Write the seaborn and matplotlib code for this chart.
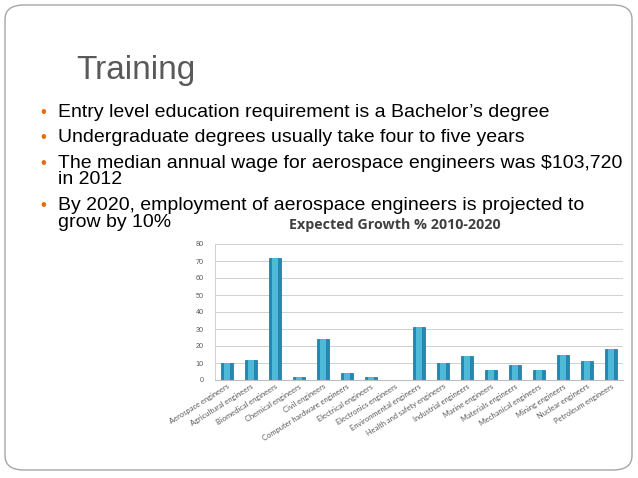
import matplotlib
matplotlib.use("Agg")
import matplotlib.pyplot as plt
import seaborn as sns
import pandas as pd
from matplotlib.patches import FancyBboxPatch

# chart data
occupations = ["Aerospace engineers", "Agricultural engineers", "Biomedical engineers",
               "Chemical engineers", "Civil engineers", "Computer hardware engineers",
               "Electrical engineers", "Electronics engineers", "Environmental engineers",
               "Health and safety engineers", "Industrial engineers", "Marine engineers",
               "Materials engineers", "Mechanical engineers", "Mining engineers",
               "Nuclear engineers", "Petroleum engineers"]
growth = [10, 12, 72, 2, 24, 4, 2, 0, 31, 10, 14, 6, 9, 6, 15, 11, 18]
y_ticks = [0, 10, 20, 30, 40, 50, 60, 70, 80]

bullets = [
    ["Entry level education requirement is a Bachelor\u2019s degree"],
    ["Undergraduate degrees usually take four to five years"],
    ["The median annual wage for aerospace engineers was $103,720", "in 2012"],
    ["By 2020, employment of aerospace engineers is projected to", "grow by 10%"],
]

sns.set_style("white")
plt.rcParams['font.family'] = ['Liberation Sans', 'DejaVu Sans']

W, H = 638, 478
fig = plt.figure(figsize=(W / 100, H / 100), dpi=100)

# slide frame
frame = FancyBboxPatch((5 / W, 8 / H), 627 / W, 465 / H,
                       boxstyle="round,pad=0,rounding_size=0.03",
                       transform=fig.transFigure, fill=False,
                       edgecolor="#a6a6a6", linewidth=1.0)
fig.patches.append(frame)

fig.text(76 / W, 1 - 79 / H, "Training", fontsize=24, color="#595959", va="baseline")

# bullet lines (baselines in pixels from the top)
baselines = [117, 142, 168, 210]
for y, lines in zip(baselines, bullets):
    fig.text(40 / W, 1 - y / H, "\u2022", fontsize=12, color="#e46c0a", va="baseline")
    for i, line in enumerate(lines):
        fig.text(58 / W, 1 - (y + 16.5 * i) / H, line, fontsize=14,
                 color="black", va="baseline")

# embedded chart
df = pd.DataFrame({"occupation": occupations, "growth": growth})
ax = fig.add_axes([215 / W, 1 - 380 / H, 408 / W, 136 / H])
sns.barplot(data=df, x="occupation", y="growth", color="#2389b0",
            width=0.5, edgecolor="#1a6f8f", linewidth=0.5, saturation=1, ax=ax)
# lighter core gives the cylinder look of the original bars
sns.barplot(data=df, x="occupation", y="growth", color="#4fb9d8",
            width=0.24, linewidth=0, saturation=1, ax=ax)
ax.set_ylim(0, 80)
ax.set_yticks(y_ticks)
ax.yaxis.grid(True, color="#d0d0d0", linewidth=0.7)
ax.set_axisbelow(True)
for s in ["top", "right"]:
    ax.spines[s].set_visible(False)
ax.spines["bottom"].set_color("#bfbfbf")
ax.spines["left"].set_color("#d0d0d0")
ax.spines["left"].set_linewidth(0.7)
ax.tick_params(axis="y", labelsize=5.2, colors="#595959", length=0, pad=8)
ax.tick_params(axis="x", length=0, pad=2)
ax.set_xticks(range(len(occupations)))
ax.set_xticklabels(occupations, rotation=32, ha="right", rotation_mode="anchor",
                   fontsize=5.4, color="#595959", family=["Lato", "DejaVu Sans"])
ax.set_xlabel("")
ax.set_ylabel("")
fig.text(395 / W, 1 - 225 / H, "Expected Growth % 2010-2020", fontsize=10.3,
         fontweight="bold", color="#404040", ha="center", va="center",
         family=["Open Sans", "DejaVu Sans"])

fig.savefig("out.png", dpi=100)
